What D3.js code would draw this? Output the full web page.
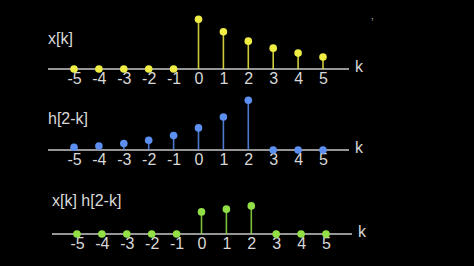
<!DOCTYPE html>
<html><head><meta charset="utf-8">
<script src="https://cdn.jsdelivr.net/npm/d3@7"></script>
<style>html,body{margin:0;padding:0;background:#000;}svg{display:block;}</style>
</head><body>
<svg id="c" width="474" height="266"></svg>
<script>
const ks = [-5,-4,-3,-2,-1,0,1,2,3,4,5];
const tickLabels = ["-5","-4","-3","-2","-1","0","1","2","3","4","5"];
const xk  = [0,0,0,0,0,1,0.75,0.56,0.42,0.32,0.24];
const h2k = [0.055,0.08,0.13,0.195,0.29,0.445,0.665,1,0,0,0];
const yk  = [0,0,0,0,0,0.445,0.5,0.565,0,0,0];
const labels = ["x[k]","h[2-k]","x[k] h[2-k]"];
const colors = ["#f0ee45","#5c8ff0","#92e045"];

const svg = d3.select("#c");
svg.append("rect").attr("width",474).attr("height",266).attr("fill","#000");

const FONT = "Liberation Sans, Arial, sans-serif";
const panels = [
  {vals:xk,  axisY:69,  x0:74, lx:48, ly:44,  axL:48, axR:349, kX:355},
  {vals:h2k, axisY:150, x0:74, lx:48, ly:124, axL:48, axR:349, kX:355},
  {vals:yk,  axisY:234, x0:77, lx:52, ly:206, axL:52, axR:352, kX:358}
];

panels.forEach((p,i)=>{
  const x = d3.scaleLinear().domain([-5,5]).range([p.x0, p.x0+249]);
  const y = d3.scaleLinear().domain([0,1]).range([p.axisY, p.axisY-49.7]);
  const g = svg.append("g");
  g.append("line").attr("x1",p.axL).attr("x2",p.axR).attr("y1",p.axisY).attr("y2",p.axisY)
    .attr("stroke","#c8c8c8").attr("stroke-width",1.5);
  g.append("text").attr("x",p.kX).attr("y",p.axisY+3).attr("fill","#d8d8d8")
    .attr("font-family",FONT).attr("font-size",16).text("k");
  g.append("text").attr("x",p.lx).attr("y",p.ly).attr("fill","#d8d8d8")
    .attr("font-family",FONT).attr("font-size",16).text(labels[i]);
  const axis = d3.axisBottom(x).tickValues(ks).tickFormat((d,j)=>tickLabels[j]).tickSize(0).tickPadding(4);
  const ag = g.append("g").attr("transform",`translate(0,${p.axisY})`).call(axis);
  ag.select(".domain").remove();
  ag.selectAll("text").attr("fill","#d8d8d8").attr("font-size",16)
    .attr("font-family",FONT);
  g.selectAll(".stem").data(p.vals).enter().append("line")
    .attr("x1",(d,j)=>x(ks[j])).attr("x2",(d,j)=>x(ks[j]))
    .attr("y1",y(0)).attr("y2",d=>y(d))
    .attr("stroke",colors[i]).attr("stroke-width",1.6).attr("opacity",0.85);
  g.selectAll(".dot").data(p.vals).enter().append("circle")
    .attr("cx",(d,j)=>x(ks[j])).attr("cy",d=>y(d)).attr("r",3.8).attr("fill",colors[i]);
});
svg.append("text").attr("x",371).attr("y",27).attr("fill","#999").attr("font-size",12)
  .attr("font-family",FONT).text("’");
</script>
</body></html>
